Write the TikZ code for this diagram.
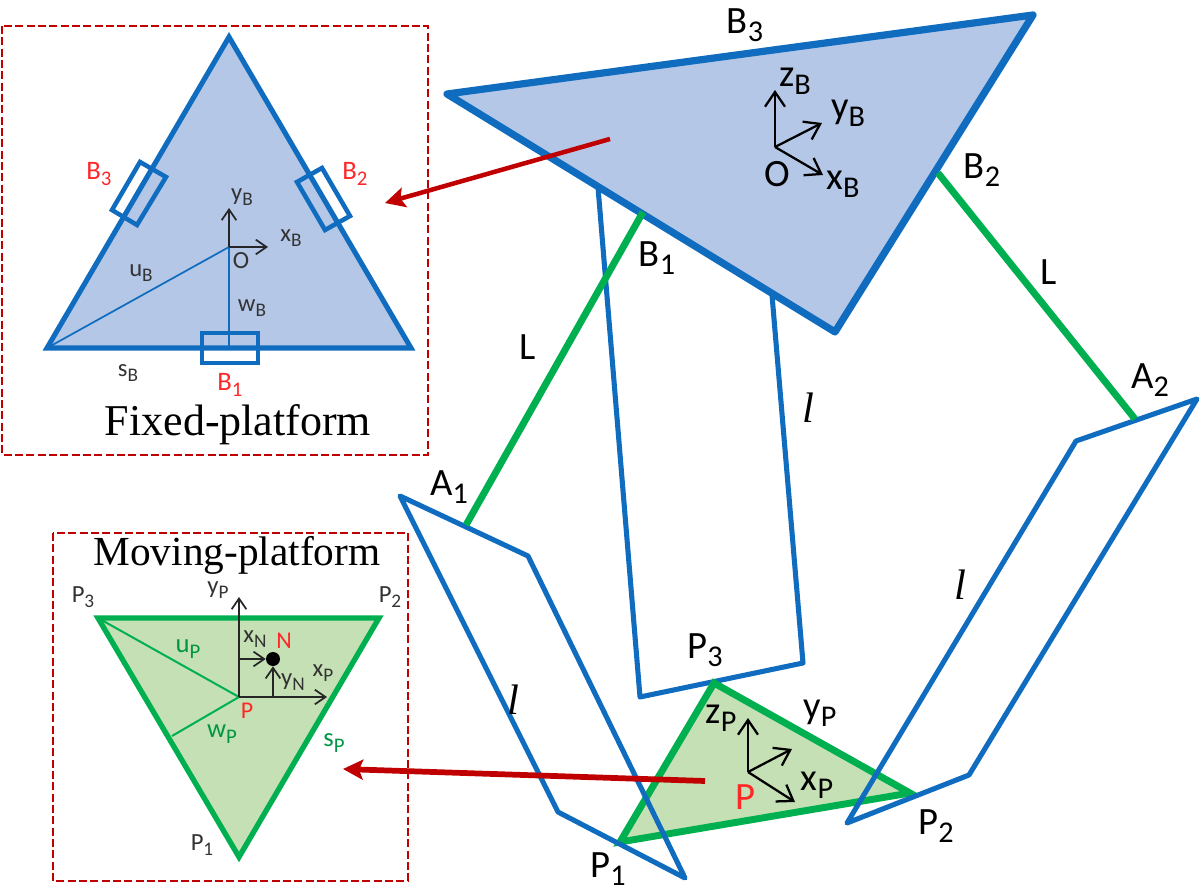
\documentclass[tikz,border=0pt]{standalone}
\usepackage{fontspec}
\setmainfont{Carlito}
\newfontfamily\titlefont{Liberation Serif}
\usetikzlibrary{arrows.meta}
\definecolor{dkblue}{RGB}{15,108,191}
\definecolor{ltblue}{RGB}{180,199,231}
\definecolor{dkgreen}{RGB}{0,176,80}
\definecolor{ltgreen}{RGB}{197,224,180}
\definecolor{dkred}{RGB}{192,0,0}
\definecolor{lblred}{RGB}{255,40,40}
\newcommand{\sub}[2]{#1\raisebox{-.2em}{\scalebox{.78}{#2}}}

\begin{document}
\begin{tikzpicture}[x=0.75pt,y=0.75pt,yscale=-1,xscale=1,
  bigtxt/.style={inner sep=0.75pt,font=\fontsize{29}{32}\selectfont},
  midtxt/.style={inner sep=0.75pt,font=\fontsize{18.5}{22}\selectfont,text=black!80},
  redtxt/.style={inner sep=0.75pt,font=\fontsize{20}{24}\selectfont,text=lblred},
  smallred/.style={inner sep=0.75pt,font=\fontsize{18}{20}\selectfont,text=lblred},
  greentxt/.style={inner sep=0.75pt,font=\fontsize{20}{24}\selectfont,text=dkgreen!85!black},
  titletxt/.style={inner sep=0.75pt,font=\titlefont\fontsize{33}{36}\selectfont},
  lltxt/.style={inner sep=0.75pt,font=\titlefont\itshape\fontsize{32}{36}\selectfont},
  dashbox/.style={draw=dkred,line width=2pt,dash pattern=on 6pt off 2.5pt},
  link/.style={draw=dkblue,line width=3.8pt,line join=round},
  rod/.style={draw=dkgreen,line width=5.2pt},
  slider/.style={draw=dkblue,line width=3.4pt},
  axis/.style={draw=black,line width=1.7pt,-{Straight Barb[length=11pt,width=15pt,line width=1.7pt]}},
  smallaxis/.style={draw=black!85,line width=1.3pt,-{Straight Barb[length=8pt,width=11pt,line width=1.3pt]}},
  redarrow/.style={draw=dkred,line width=3.4pt,-{Stealth[length=15pt,width=15pt,inset=3pt]}}]
\useasboundingbox (0,0) rectangle (1200,895);

%Corner points
\coordinate (B3c) at (447,94);
\coordinate (B2c) at (1033,15);
\coordinate (B0c) at (835,332);
\coordinate (P3c) at (714,683);
\coordinate (P2c) at (910,793);
\coordinate (P1c) at (620,842);
\coordinate (B1pt) at (643,212);
\coordinate (A1pt) at (466,525);
\coordinate (B2pt) at (938,173);
\coordinate (A2pt) at (1135,419);
\coordinate (O) at (775,147);
\coordinate (P) at (748,772);

%Dashed frames
\draw [dashbox] (2,26) rectangle (428,455);
\draw [dashbox] (53,533) rectangle (408,881);

%Fixed-platform sketch
\coordinate (ft) at (229,37);
\coordinate (fl) at (47,348);
\coordinate (fr) at (411,348);
\coordinate (fo) at (229,247);
\draw [draw=dkblue,fill=ltblue,line width=3.8pt,line join=miter] (ft) -- (fl) -- (fr) -- cycle;
\draw [draw=dkblue,line width=1.3pt] (fl) -- (fo) -- (229,348);
\draw [slider] (140,162) -- (166,177) -- (137,225) -- (112,210) -- cycle;
\draw [slider] (322,168) -- (350,216) -- (325,230) -- (297,182) -- cycle;
\draw [slider] (202,333) rectangle (258,363);
\draw [smallaxis] (fo) -- (229,208);
\draw [smallaxis] (fo) -- (268,247);

%Moving-platform sketch
\coordinate (m3) at (98,618);
\coordinate (m2) at (379,618);
\coordinate (m1) at (239,857);
\coordinate (mo) at (239,697);
\draw [draw=dkgreen,fill=ltgreen,line width=4pt,line join=miter] (m3) -- (m2) -- (m1) -- cycle;
\draw [draw=dkgreen,line width=1.5pt] (m3) -- (mo) -- (172,736);
\node [circle,fill=black,inner sep=0pt,minimum size=10.5pt] (dotN) at (273,659) {};
\draw [smallaxis] (mo) -- (239,597);
\draw [smallaxis] (mo) -- (327,697);
\draw [smallaxis] (239,659) -- (dotN);
\draw [smallaxis] (273,697) -- (dotN);

%Middle link and base
\draw [link] (598,187) -- (640,697) -- (803,663) -- (772,295);
\draw [draw=dkblue,fill=ltblue,line width=5.4pt,line join=round] (B3c) -- (B2c) -- (B0c) -- cycle;

%Moving platform
\draw [draw=dkgreen,fill=ltgreen,line width=5.2pt,line join=miter] (P3c) -- (P2c) -- (P1c) -- cycle;

%Outer links and rods
\draw [link] (400,496) -- (528,556) -- (685,878) -- (558,812) -- cycle;
\draw [link] (1197,399) -- (1076,441) -- (847,823) -- (969,775) -- cycle;
\draw [rod] (B1pt) -- (A1pt);
\draw [rod] (B2pt) -- (A2pt);

%Frames at base and platform
\draw [axis] (O) -- (775,90);
\draw [axis] (O) -- (822,123);
\draw [axis] (O) -- (823,175);
\draw [axis] (P) -- (748,718);
\draw [axis] (P) -- (792,749);
\draw [axis] (P) -- (795,802);

%Red arrows
\coordinate (r1s) at (610,139);
\coordinate (r1e) at (385,203);
\coordinate (r2s) at (705,781);
\coordinate (r2e) at (343,769);
\draw [redarrow] (r1s) -- (r1e);
\draw [redarrow,line width=4.3pt] (r2s) -- (r2e);

% Text Node
\node [titletxt] (fixedtitle) at (238,425) {Fixed-platform};
\node [titletxt,font=\titlefont\fontsize{31}{34}\selectfont] (movingtitle) at (237,555) {Moving-platform};
% Text Node
\node [redtxt] (fB3) at (99,174) {\sub{B}{3}};
\node [redtxt] (fB2) at (355,174) {\sub{B}{2}};
\node [redtxt] (fB1) at (230,385) {\sub{B}{1}};
\node [midtxt] (fyB) at (242,197) {\sub{y}{B}};
\node [midtxt] (fxB) at (291,238) {\sub{x}{B}};
\node [midtxt] (fO) at (241,261) {O};
\node [midtxt] (fuB) at (141,273) {\sub{u}{B}};
\node [midtxt] (fwB) at (252,308) {\sub{w}{B}};
\node [midtxt] (fsB) at (128,373) {\sub{s}{B}};
% Text Node
\node [midtxt] (mP3) at (83,597) {\sub{P}{3}};
\node [midtxt] (mP2) at (390,597) {\sub{P}{2}};
\node [midtxt] (mP1) at (202,845) {\sub{P}{1}};
\node [midtxt] (myP) at (218,590) {\sub{y}{P}};
\node [midtxt] (mxN) at (255,639) {\sub{x}{N}};
\node [midtxt] (myN) at (293,682) {\sub{y}{N}};
\node [midtxt] (mxP) at (323,673) {\sub{x}{P}};
\node [smallred] (mN) at (284,641) {N};
\node [smallred] (mP) at (247,711) {P};
\node [greentxt] (muP) at (188,649) {\sub{u}{P}};
\node [greentxt] (mwP) at (222,734) {\sub{w}{P}};
\node [greentxt] (msP) at (334,743) {\sub{s}{P}};
% Text Node
\node [bigtxt] (tB3) at (745,25) {\sub{B}{3}};
\node [bigtxt] (tB2) at (982,170) {\sub{B}{2}};
\node [bigtxt] (tB1) at (657,258) {\sub{B}{1}};
\node [bigtxt] (tA1) at (449,487) {\sub{A}{1}};
\node [bigtxt] (tA2) at (1150,380) {\sub{A}{2}};
\node [bigtxt] (tL1) at (528,347) {L};
\node [bigtxt] (tL2) at (1049,272) {L};
\node [bigtxt] (tzB) at (795,81) {\sub{z}{B}};
\node [bigtxt] (tyB) at (848,113) {\sub{y}{B}};
\node [bigtxt] (txB) at (843,184) {\sub{x}{B}};
\node [bigtxt] (tO) at (777,174) {O};
\node [bigtxt] (tP3) at (705,650) {\sub{P}{3}};
\node [bigtxt] (tP2) at (936,826) {\sub{P}{2}};
\node [bigtxt] (tP1) at (608,869) {\sub{P}{1}};
\node [bigtxt] (tzP) at (721,718) {\sub{z}{P}};
\node [bigtxt] (tyP) at (820,713) {\sub{y}{P}};
\node [bigtxt] (txP) at (817,785) {\sub{x}{P}};
\node [bigtxt,text=lblred] (tP) at (745,797) {P};
% Text Node
\node [lltxt] (ll1) at (808,408) {l};
\node [lltxt] (ll2) at (960,585) {l};
\node [lltxt] (ll3) at (513,700) {l};
\end{tikzpicture}
\end{document}
